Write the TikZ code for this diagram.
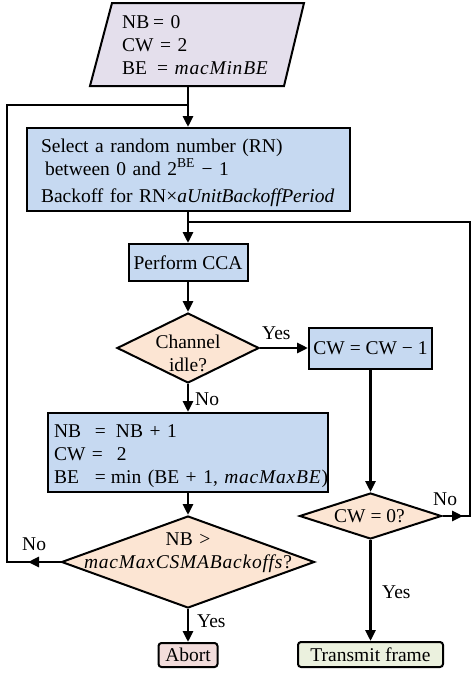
\documentclass[tikz,border=0pt]{standalone}
\usepackage{fontspec}
\setmainfont{Liberation Serif}
\usetikzlibrary{shapes.geometric,arrows.meta}
\definecolor{boxblue}{HTML}{C6D9F1}
\definecolor{peach}{HTML}{FCE5D3}
\definecolor{lav}{HTML}{E4DFEC}
\definecolor{abortpink}{HTML}{F2DCDB}
\definecolor{txgreen}{HTML}{EBF1DE}
\newcommand{\itx}[1]{\textit{\addfontfeature{LetterSpace=4}#1}}
\begin{document}
\begin{tikzpicture}[x=1pt,y=-1pt,
  every node/.style={font=\fontsize{19.5}{23}\selectfont},
  procbox/.style={draw, line width=2pt, fill=boxblue, inner sep=0pt, rectangle},
  termbox/.style={draw, line width=2pt, inner sep=0pt, rectangle, rounded corners=3pt},
  decision/.style={draw, line width=2pt, fill=peach, diamond, inner sep=0pt},
  txt/.style={inner sep=0pt},
  conn/.style={line width=2.8pt},
  arr/.style={conn, -{Triangle[length=11pt,width=10pt]}},
  lbl/.style={anchor=base west, inner sep=0pt},
]
\useasboundingbox (0,0) rectangle (474,680);
\fill[white] (0,0) rectangle (474,680);

% start parallelogram
\coordinate (p1) at (112,3);
\coordinate (p2) at (304,3);
\coordinate (p3) at (284,86);
\coordinate (p4) at (90,86);
\draw[line width=2pt, fill=lav] (p1) -- (p2) -- (p3) -- (p4) -- cycle;
\node[txt, text width=170pt, align=left, anchor=base west] (init) at (122,28)
  {\makebox[31pt][l]{NB}= 0\\CW = 2\\\makebox[35pt][l]{BE}= \itx{macMinBE}};
\coordinate (initb) at (188,86);

% boxes
\node[procbox, minimum width=323pt, minimum height=83pt, inner xsep=14.5pt,
  text width=294pt, align=left, text height=13pt, text depth=48pt] (box1) at (188,169.5)
  {\mbox{Select a random number (RN)}\\\mbox{\hspace*{4pt}between 0 and 2\textsuperscript{BE} − 1}\\[4pt]\mbox{Backoff for RN×\textit{aUnitBackoffPeriod}}};
\node[procbox, minimum width=119pt, minimum height=37pt] (cca) at (188,262.5) {Perform CCA};
\node[decision, minimum width=142pt, minimum height=70pt] (d1) at (188,348) {};
\node[txt, text width=120pt, align=center, anchor=base] (d1t) at (188,348) {Channel\\idle?};
\node[procbox, minimum width=123pt, minimum height=41pt] (cw1) at (370.5,348.5) {CW = CW − 1};
\node[procbox, minimum width=280pt, minimum height=79pt, inner xsep=6pt,
  text width=268pt, align=left, text height=13pt, text depth=44pt] (box2) at (188,452.5)
  {\mbox{\makebox[41pt][l]{NB}\makebox[21pt][l]{=}NB + 1}\\\mbox{\makebox[38pt][l]{CW}\makebox[25pt][l]{=}2}\\\mbox{\makebox[41pt][l]{BE}\makebox[16pt][l]{=}min (BE + 1, \itx{macMaxBE})}};
\node[decision, minimum width=253pt, minimum height=92pt] (d2) at (188,562) {};
\node[txt, text width=240pt, align=center, anchor=base] (d2t) at (188,545.5) {NB >\\\mbox{\itx{macMaxCSMABackoffs}?}};
\node[decision, minimum width=142pt, minimum height=46pt] (d3) at (370.5,516) {};
\node[txt, anchor=base] (d3t) at (369.5,522.5) {CW = 0?};
\node[termbox, fill=abortpink, minimum width=59pt, minimum height=24pt] (abort) at (188,655) {Abort};
\node[termbox, fill=txgreen, minimum width=145pt, minimum height=25pt] (tx) at (370.5,654.5) {Transmit frame};

% labels
\node[lbl] (yes1) at (262,339) {Yes};
\node[lbl] (no1) at (195,405) {No};
\node[lbl] (no2) at (22,550) {No};
\node[lbl] (yes2) at (197,627) {Yes};
\node[lbl] (no3) at (433,505) {No};
\node[lbl] (yes3) at (382,598) {Yes};

% junctions
\coordinate (j1) at (188,105);
\coordinate (j2) at (188,222);
\coordinate (lx) at (7,105);
\coordinate (rx) at (470,222);
\coordinate (ltip) at (28,562);
\coordinate (rtip) at (463,516);

% connectors
\draw[arr] (initb) -- (box1.north);
\draw[arr] (box1.south) -- (cca.north);
\draw[arr] (cca.south) -- (d1.north);
\draw[arr] (d1.east) -- (d1.east -| cw1.west);
\draw[arr] (d1.south) -- (box2.north);
\draw[arr] (box2.south) -- (d2.north);
\draw[arr] (d2.south) -- (abort.north);
\draw[arr] (cw1.south) -- (d3.north);
\draw[arr] (d3.south) -- (tx.north);
\draw[conn] (d2.west) -| (lx) -- (j1);
\draw[arr] (d2.west) -- (ltip);
\draw[conn] (d3.east) -| (rx) -- (j2);
\draw[arr] (d3.east) -- (rtip);
\end{tikzpicture}
\end{document}
